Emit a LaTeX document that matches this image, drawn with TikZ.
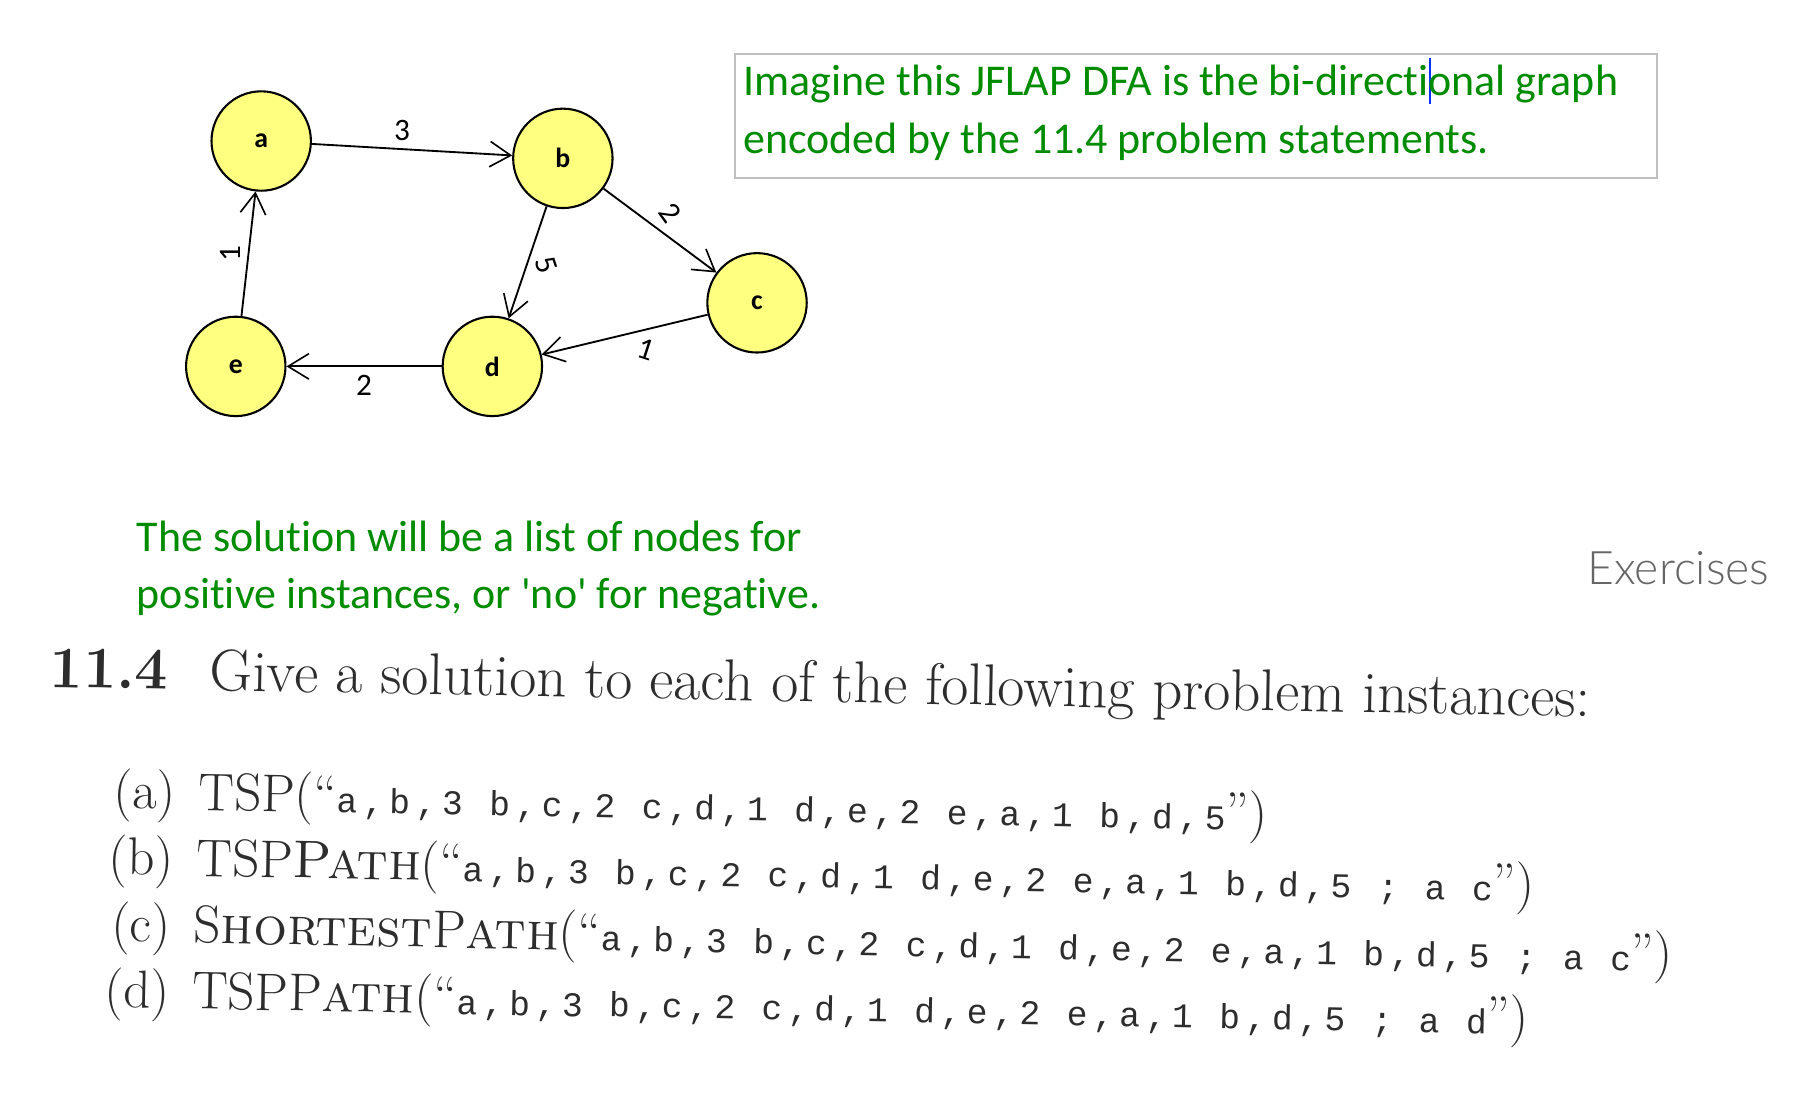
\documentclass[tikz,border=0pt]{standalone}
\usepackage{fontspec}
\usetikzlibrary{arrows.meta}
\newfontfamily\calib[Ligatures=NoCommon]{Carlito}
\newfontfamily\monof[LetterSpace=16]{Liberation Mono}
\newfontfamily\exf{Lato Light}
\definecolor{jy}{RGB}{255,255,128}
\definecolor{gtext}{RGB}{0,140,0}
\definecolor{ink}{RGB}{45,45,45}
\begin{document}
\begin{tikzpicture}[x=0.5pt,y=-0.5pt,
  st/.style={circle,draw=black,line width=0.9pt,fill=jy,minimum size=43pt,inner sep=0pt,font=\calib\bfseries\fontsize{12}{14}\selectfont},
  ed/.style={line width=0.8pt,-{Straight Barb[length=9pt,width=11pt,line width=0.7pt]}},
  el/.style={font=\calib\fontsize{13.5}{15}\selectfont,inner sep=0pt,anchor=center},
  gt/.style={font=\calib\fontsize{19}{25}\selectfont,text=gtext,align=left,anchor=north west,inner sep=0pt},
  bk/.style={text=ink,anchor=west,inner sep=0pt,rotate=-1.1}]
\useasboundingbox (0,0) rectangle (1560,950);
\node[st] (a) at (226,122) {a};
\node[st] (b) at (487,137) {b};
\node[st] (c) at (655,262) {c};
\node[st] (d) at (426,317) {d};
\node[st] (e) at (204,317) {e};
\draw[ed] (a) -- (b) node[el,pos=0.45,shift={(0,-16)}] {3};
\draw[ed] (b) -- (c) node[el,pos=0.45,shift={(14,-12)},rotate=-54] {2};
\draw[ed] (b) -- (d) node[el,pos=0.5,shift={(16,2)},rotate=-72] {5};
\draw[ed] (c) -- (d) node[el,pos=0.4,shift={(4,16)},rotate=-18] {1};
\draw[ed] (d) -- (e) node[el,pos=0.5,shift={(0,16)}] {2};
\draw[ed] (e) -- (a) node[el,pos=0.5,shift={(-16,0)},rotate=90] {1};
\node[draw=black!25,line width=0.8pt,minimum width=399pt,minimum height=53.5pt,anchor=north west,inner sep=0pt] (box) at (635,46) {};
\node[gt] (t1) at (643,50) {Imagine this JFLAP DFA is the bi-directi\rlap{\textcolor{blue!80!cyan}{\rule[-4pt]{1.2pt}{20pt}}}onal graph\\encoded by the 11.4 problem statements.};
\node[gt] (t2) at (118,450) {The solution will be a list of nodes for\\positive instances, or 'no' for negative.};
\node[anchor=west,text=black!60,font=\exf\fontsize{20}{24}\selectfont,inner sep=0pt] (ex) at (1373,492) {Exercises};
\node[bk,font=\fontsize{25.5}{28}\selectfont] (h) at (43,582) {\textbf{11.4}\hspace{18pt}Give a solution to each of the following problem instances:};
\node[bk,font=\fontsize{23}{26}\selectfont] (ia) at (98,688) {(a)\hspace{10pt}TSP(“{\monof\fontsize{15}{18}\selectfont a,b,3 b,c,2 c,d,1 d,e,2 e,a,1 b,d,5}”)};
\node[bk,font=\fontsize{23}{26}\selectfont] (ib) at (94,745) {(b)\hspace{10pt}TSP\textsc{Path}(“{\monof\fontsize{15}{18}\selectfont a,b,3 b,c,2 c,d,1 d,e,2 e,a,1 b,d,5 ; a c}”)};
\node[bk,font=\fontsize{23}{26}\selectfont] (ic) at (96,803) {(c)\hspace{10pt}S\textsc{hortest}P\textsc{ath}(“{\monof\fontsize{15}{18}\selectfont a,b,3 b,c,2 c,d,1 d,e,2 e,a,1 b,d,5 ; a c}”)};
\node[bk,font=\fontsize{23}{26}\selectfont] (id) at (90,860) {(d)\hspace{10pt}TSPP\textsc{ath}(“{\monof\fontsize{15}{18}\selectfont a,b,3 b,c,2 c,d,1 d,e,2 e,a,1 b,d,5 ; a d}”)};
\end{tikzpicture}
\end{document}
